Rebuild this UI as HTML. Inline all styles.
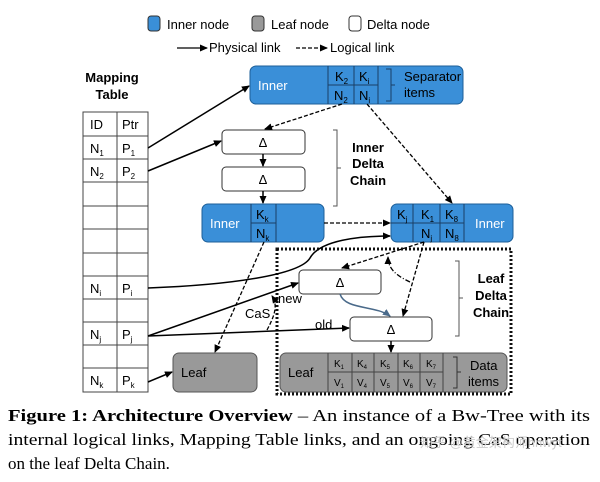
<!DOCTYPE html>
<html><head><meta charset="utf-8"><style>
body{margin:0;background:#fff;width:600px;height:477px;overflow:hidden}
svg text{font-family:"Liberation Sans",sans-serif}
</style></head><body>
<svg width="600" height="477" viewBox="0 0 600 477" xmlns="http://www.w3.org/2000/svg">
<defs>
<marker id="a" markerWidth="8" markerHeight="8" refX="7" refY="4" orient="auto" markerUnits="userSpaceOnUse"><path d="M0,0.5 L8,4 L0,7.5z" fill="#000"/></marker>
<marker id="g" markerWidth="8" markerHeight="8" refX="7" refY="4" orient="auto" markerUnits="userSpaceOnUse"><path d="M0,0.5 L8,4 L0,7.5z" fill="#4a6a8a"/></marker>
</defs>
<!-- legend -->
<rect x="148" y="16" width="12" height="15" rx="3" fill="#3a8fd8" stroke="#333"/>
<text x="167" y="29" font-size="13">Inner node</text>
<rect x="252" y="16" width="12" height="15" rx="3" fill="#999" stroke="#333"/>
<text x="271" y="29" font-size="13">Leaf node</text>
<rect x="349" y="16" width="12" height="15" rx="3" fill="#fff" stroke="#333"/>
<text x="367" y="29" font-size="13">Delta node</text>
<line x1="177" y1="48" x2="207" y2="48" stroke="#000" stroke-width="1.3" marker-end="url(#a)"/>
<text x="209" y="52" font-size="13">Physical link</text>
<line x1="296" y1="48" x2="327" y2="48" stroke="#000" stroke-width="1.3" stroke-dasharray="4,2" marker-end="url(#a)"/>
<text x="330" y="52" font-size="13">Logical link</text>
<!-- mapping table -->
<text x="112" y="82" font-size="13" font-weight="bold" text-anchor="middle">Mapping</text>
<text x="112" y="99" font-size="13" font-weight="bold" text-anchor="middle">Table</text>
<g stroke="#444" fill="none" stroke-width="1">
<rect x="83" y="112" width="65" height="280"/>
<line x1="117" y1="112" x2="117" y2="392"/>
<path d="M83 136H148M83 159H148M83 182H148M83 206H148M83 229H148M83 253H148M83 276H148M83 299H148M83 322H148M83 345H148M83 368H148"/>
</g>
<g font-size="13">
<text x="90" y="129">ID</text><text x="122" y="129">Ptr</text>
<text x="90" y="153">N<tspan font-size="8" dy="3">1</tspan></text><text x="122" y="153">P<tspan font-size="8" dy="3">1</tspan></text>
<text x="90" y="176">N<tspan font-size="8" dy="3">2</tspan></text><text x="122" y="176">P<tspan font-size="8" dy="3">2</tspan></text>
<text x="90" y="293">N<tspan font-size="8" dy="3">i</tspan></text><text x="122" y="293">P<tspan font-size="8" dy="3">i</tspan></text>
<text x="90" y="339">N<tspan font-size="8" dy="3">j</tspan></text><text x="122" y="339">P<tspan font-size="8" dy="3">j</tspan></text>
<text x="90" y="385">N<tspan font-size="8" dy="3">k</tspan></text><text x="122" y="385">P<tspan font-size="8" dy="3">k</tspan></text>
</g>
<!-- top inner -->
<rect x="250" y="66" width="213" height="38" rx="6" fill="#3a8fd8" stroke="#1d5f99"/>
<text x="258" y="90" font-size="13" fill="#fff">Inner</text>
<g stroke="#1a3f66" fill="none"><path d="M328 66V104M354 66V104M378 66V104M328 85H378"/>
<path d="M386 69H391V101H386M391 85H395"/></g>
<g font-size="13"><text x="335" y="81">K<tspan font-size="8" dy="3">2</tspan></text><text x="359" y="81">K<tspan font-size="8" dy="3">i</tspan></text>
<text x="334" y="100">N<tspan font-size="8" dy="3">2</tspan></text><text x="359" y="100">N<tspan font-size="8" dy="3">i</tspan></text>
<text x="404" y="81">Separator</text><text x="404" y="97">items</text></g>
<!-- inner deltas -->
<rect x="222" y="130" width="83" height="24" rx="4" fill="#fff" stroke="#333"/>
<text x="263" y="147" font-size="13" text-anchor="middle">Δ</text>
<rect x="222" y="167" width="83" height="24" rx="4" fill="#fff" stroke="#333"/>
<text x="263" y="184" font-size="13" text-anchor="middle">Δ</text>
<path d="M333 130H337V206H333M337 168H341" stroke="#555" fill="none"/>
<g font-size="13" font-weight="bold" text-anchor="middle"><text x="368" y="152">Inner</text><text x="368" y="168">Delta</text><text x="368" y="185">Chain</text></g>
<!-- inner left -->
<rect x="202" y="204" width="122" height="38" rx="6" fill="#3a8fd8" stroke="#1d5f99"/>
<text x="210" y="228" font-size="13" fill="#fff">Inner</text>
<path d="M251 204V242M276 204V242M251 223H276" stroke="#1a3f66" fill="none"/>
<g font-size="13"><text x="256" y="219">K<tspan font-size="8" dy="3">k</tspan></text><text x="256" y="238">N<tspan font-size="8" dy="3">k</tspan></text></g>
<!-- inner right -->
<rect x="391" y="204" width="122" height="38" rx="6" fill="#3a8fd8" stroke="#1d5f99"/>
<text x="475" y="228" font-size="13" fill="#fff">Inner</text>
<path d="M413 204V242M440 204V242M464 204V242M391 223H464" stroke="#1a3f66" fill="none"/>
<g font-size="13"><text x="397" y="219">K<tspan font-size="8" dy="3">j</tspan></text><text x="421" y="219">K<tspan font-size="8" dy="3">1</tspan></text><text x="445" y="219">K<tspan font-size="8" dy="3">8</tspan></text>
<text x="421" y="238">N<tspan font-size="8" dy="3">j</tspan></text><text x="445" y="238">N<tspan font-size="8" dy="3">8</tspan></text></g>
<!-- dotted box -->
<rect x="277" y="249" width="234" height="145" fill="none" stroke="#111" stroke-width="3" stroke-dasharray="2,2"/>
<!-- leaf deltas -->
<rect x="299" y="270" width="82" height="24" rx="4" fill="#fff" stroke="#333"/>
<text x="340" y="287" font-size="13" text-anchor="middle">Δ</text>
<rect x="350" y="317" width="82" height="24" rx="4" fill="#fff" stroke="#333"/>
<text x="391" y="334" font-size="13" text-anchor="middle">Δ</text>
<path d="M455 261H459V336H455M459 298H463" stroke="#555" fill="none"/>
<g font-size="13" font-weight="bold" text-anchor="middle"><text x="491" y="283">Leaf</text><text x="491" y="300">Delta</text><text x="491" y="317">Chain</text></g>
<!-- leaf bottom -->
<rect x="280" y="353" width="227" height="39" rx="6" fill="#999" stroke="#555"/>
<text x="288" y="377" font-size="13">Leaf</text>
<path d="M328 353V392M352 353V392M374 353V392M398 353V392M420 353V392M443 353V392M328 372H443" stroke="#444" fill="none"/>
<g font-size="10"><text x="334" y="367">K<tspan font-size="6" dy="2">1</tspan></text><text x="357" y="367">K<tspan font-size="6" dy="2">4</tspan></text><text x="380" y="367">K<tspan font-size="6" dy="2">5</tspan></text><text x="403" y="367">K<tspan font-size="6" dy="2">6</tspan></text><text x="426" y="367">K<tspan font-size="6" dy="2">7</tspan></text>
<text x="334" y="386">V<tspan font-size="6" dy="2">1</tspan></text><text x="357" y="386">V<tspan font-size="6" dy="2">4</tspan></text><text x="380" y="386">V<tspan font-size="6" dy="2">5</tspan></text><text x="403" y="386">V<tspan font-size="6" dy="2">6</tspan></text><text x="426" y="386">V<tspan font-size="6" dy="2">7</tspan></text></g>
<path d="M453 357H457V388H453M457 372H461" stroke="#333" fill="none"/>
<g font-size="13"><text x="470" y="370">Data</text><text x="468" y="386">items</text></g>
<!-- left leaf -->
<rect x="173" y="353" width="84" height="39" rx="6" fill="#999" stroke="#555"/>
<text x="181" y="377" font-size="13">Leaf</text>
<!-- arrows -->
<g stroke="#000" stroke-width="1.5" fill="none" marker-end="url(#a)">
<line x1="148" y1="148" x2="249" y2="86"/>
<line x1="148" y1="171" x2="221" y2="141"/>
<line x1="263" y1="154" x2="263" y2="166"/>
<line x1="263" y1="191" x2="263" y2="203"/>
<path d="M148 288C230 285 300 275 310 258C320 240 360 236 390 236"/>
<line x1="148" y1="336" x2="298" y2="283"/>
<line x1="148" y1="336" x2="349" y2="328"/>
<line x1="148" y1="382" x2="172" y2="372"/>
<line x1="391" y1="341" x2="391" y2="352"/>
</g>
<g stroke="#000" stroke-width="1.3" fill="none" stroke-dasharray="4,2" marker-end="url(#a)">
<line x1="342" y1="104" x2="265" y2="129"/>
<line x1="367" y1="104" x2="452" y2="203"/>
<line x1="324" y1="223" x2="390" y2="223"/>
<line x1="264" y1="242" x2="215" y2="352"/>
<line x1="424" y1="242" x2="342" y2="268"/>
<line x1="424" y1="242" x2="403" y2="316"/>
<path d="M267 330C275 315 278 305 272 296"/>
</g>
<path d="M410 282C395 275 388 268 388 257" stroke="#000" stroke-width="1.3" fill="none" stroke-dasharray="5,2,1,2" marker-end="url(#a)"/>
<path d="M340 294C345 310 375 305 390 316" stroke="#4a6a8a" stroke-width="1.5" fill="none" marker-end="url(#g)"/>
<g font-size="13"><text x="278" y="303">new</text><text x="245" y="318">CaS</text><text x="315" y="329">old</text></g>
<!-- caption -->
<g style="font-family:'Liberation Serif',serif" font-size="17">
<text style="font-family:'Liberation Serif',serif" x="8" y="421" textLength="582" lengthAdjust="spacingAndGlyphs"><tspan font-weight="bold">Figure 1: Architecture Overview</tspan> – An instance of a Bw-Tree with its</text>
<text style="font-family:'Liberation Serif',serif" x="8" y="445" textLength="582" lengthAdjust="spacingAndGlyphs">internal logical links, Mapping Table links, and an ongoing CaS operation</text>
<text style="font-family:'Liberation Serif',serif" x="8" y="469">on the leaf Delta Chain.</text>
</g>
<text x="420" y="447" font-size="13" fill="#ccc" style="font-family:'Liberation Sans','Noto Sans CJK SC',sans-serif">知乎 @黄金架构师hnwyt</text>
</svg>
</body></html>
